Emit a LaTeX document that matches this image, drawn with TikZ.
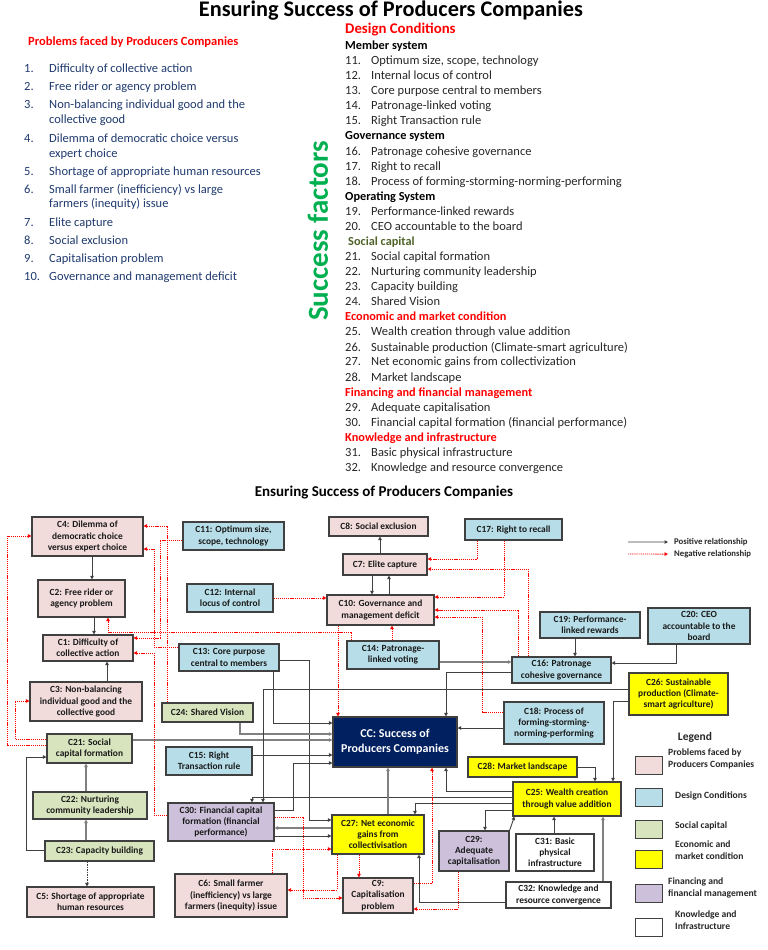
\documentclass[tikz,border=0pt]{standalone}
\usepackage{fontspec}
\setmainfont{Carlito}
\usetikzlibrary{arrows.meta}
\definecolor{pinkf}{HTML}{F2DCDB}
\definecolor{bluef}{HTML}{B7DEE8}
\definecolor{greenf}{HTML}{D7E4BD}
\definecolor{yellowf}{HTML}{FFFF00}
\definecolor{purplef}{HTML}{CCC0DA}
\definecolor{navyf}{HTML}{002060}
\definecolor{listblue}{HTML}{1F3A6E}
\definecolor{sfgreen}{HTML}{00B050}
\definecolor{olivet}{HTML}{4F6228}
\definecolor{redt}{HTML}{FF0000}
\definecolor{lineg}{HTML}{404040}
\newcommand\pitem[4]{%
  \node[plist] (#1n) at (24,#2) {#3};
  \node[plist] (#1t) at (49,#2) {#4};}
\newcommand\ritem[4]{%
  \node[rlist] (#1n) at (345,#2) {#3};
  \node[rlist] (#1t) at (371,#2) {#4};}
\begin{document}
\begin{tikzpicture}[x=1pt,y=-1pt,
  plist/.style={anchor=mid west, inner sep=0pt, text=listblue, font=\fontsize{12.5}{14}\selectfont},
  rlist/.style={anchor=mid west, inner sep=0pt, text=black!85, font=\fontsize{12.5}{14}\selectfont},
  rhead/.style={anchor=mid west, inner sep=0pt, font=\fontsize{12.3}{14}\selectfont\bfseries},
  box/.style={draw=lineg, line width=1.1pt, align=center, inner sep=1pt, text=black!90,
    font=\fontsize{9.4}{11.2}\selectfont\bfseries},
  posline/.style={draw=lineg, line width=0.9pt, -{Triangle[length=3.5pt,width=3.5pt]}},
  gposline/.style={draw=black!50, line width=1.3pt, -{Triangle[length=3.5pt,width=3.5pt]}},
  negline/.style={draw=redt, line width=0.9pt, dash pattern=on 1.2pt off 0.9pt, -{Triangle[length=3.5pt,width=3.5pt]}},
  leg/.style={anchor=mid west, inner sep=0pt, align=left, font=\fontsize{9.6}{12}\selectfont\bfseries, text=black!85},
  swatch/.style={draw=lineg, line width=1pt, minimum width=27pt, minimum height=18pt, inner sep=0pt}
]
\useasboundingbox (0,0) rectangle (768,950);

% ---------- top part ----------
\node[inner sep=0pt, font=\fontsize{22.3}{26}\selectfont\bfseries] (title) at (391,10.5) {Ensuring Success of Producers Companies};

\node[anchor=mid west, inner sep=0pt, text=redt, font=\fontsize{12.5}{14}\selectfont\bfseries] (phead) at (28,43) {Problems faced by Producers Companies};
\pitem{p1}{70}{1.}{Difficulty of collective action}
\pitem{p2}{88}{2.}{Free rider or agency problem}
\pitem{p3}{106}{3.}{Non-balancing individual good and the}
\node[plist] (p3b) at (49,121) {collective good};
\pitem{p4}{140}{4.}{Dilemma of democratic choice versus}
\node[plist] (p4b) at (49,155) {expert choice};
\pitem{p5}{173}{5.}{Shortage of appropriate human resources}
\pitem{p6}{191}{6.}{Small farmer (inefficiency) vs large}
\node[plist] (p6b) at (49,205) {farmers (inequity) issue};
\pitem{p7}{224}{7.}{Elite capture}
\pitem{p8}{242}{8.}{Social exclusion}
\pitem{p9}{260}{9.}{Capitalisation problem}
\pitem{p10}{278}{10.}{Governance and management deficit}

\node[rotate=90, inner sep=0pt, text=sfgreen, font=\fontsize{29}{32}\selectfont\bfseries] (sf) at (318,231) {Success factors};

\node[rhead, text=redt, font=\fontsize{14.8}{16}\selectfont\bfseries] (hdc) at (345,31) {Design Conditions};
\node[rhead] (hms) at (345,47) {Member system};
\ritem{r11}{62}{11.}{Optimum size, scope, technology}
\ritem{r12}{77}{12.}{Internal locus of control}
\ritem{r13}{92}{13.}{Core purpose central to members}
\ritem{r14}{107}{14.}{Patronage-linked voting}
\ritem{r15}{122}{15.}{Right Transaction rule}
\node[rhead] (hgs) at (345,137) {Governance system};
\ritem{r16}{153}{16.}{Patronage cohesive governance}
\ritem{r17}{168}{17.}{Right to recall}
\ritem{r18}{183}{18.}{Process of forming-storming-norming-performing}
\node[rhead] (hos) at (345,198) {Operating System};
\ritem{r19}{213}{19.}{Performance-linked rewards}
\ritem{r20}{228}{20.}{CEO accountable to the board}
\node[rhead, text=olivet] (hsc) at (348,243) {Social capital};
\ritem{r21}{258}{21.}{Social capital formation}
\ritem{r22}{273}{22.}{Nurturing community leadership}
\ritem{r23}{288}{23.}{Capacity building}
\ritem{r24}{303}{24.}{Shared Vision}
\node[rhead, text=redt] (hem) at (345,318) {Economic and market condition};
\ritem{r25}{333}{25.}{Wealth creation through value addition}
\ritem{r26}{349}{26.}{Sustainable production (Climate-smart agriculture)}
\ritem{r27}{363}{27.}{Net economic gains from collectivization}
\ritem{r28}{379}{28.}{Market landscape}
\node[rhead, text=redt] (hff) at (345,394) {Financing and financial management};
\ritem{r29}{409}{29.}{Adequate capitalisation}
\ritem{r30}{424}{30.}{Financial capital formation (financial performance)}
\node[rhead, text=redt] (hki) at (345,439) {Knowledge and infrastructure};
\ritem{r31}{454}{31.}{Basic physical infrastructure}
\ritem{r32}{469}{32.}{Knowledge and resource convergence}

% ---------- diagram ----------
\node[font=\fontsize{15}{17}\selectfont\bfseries] (dtitle) at (384,493) {Ensuring Success of Producers Companies};

\node[box, fill=pinkf, minimum width=111pt, minimum height=39pt] (c4) at (87.5,536.5) {C4: Dilemma of\\democratic choice\\versus expert choice};
\node[box, fill=bluef, minimum width=101pt, minimum height=28pt] (c11) at (233.5,536) {C11: Optimum size,\\scope, technology};
\node[box, fill=pinkf, minimum width=87pt, minimum height=37pt] (c2) at (81.5,598.5) {C2: Free rider or\\agency problem};
\node[box, fill=bluef, minimum width=86pt, minimum height=28pt] (c12) at (230,598) {C12: Internal\\locus of control};
\node[box, fill=pinkf, minimum width=99pt, minimum height=19pt] (c8) at (378.5,526.5) {C8: Social exclusion};
\node[box, fill=bluef, minimum width=97pt, minimum height=21pt] (c17) at (513.5,529.5) {C17: Right to recall};
\node[box, fill=pinkf, minimum width=84pt, minimum height=21pt] (c7) at (385,564.5) {C7: Elite capture};
\node[box, fill=pinkf, minimum width=107pt, minimum height=30pt] (c10) at (380.5,610) {C10: Governance and\\management deficit};
\node[box, fill=bluef, minimum width=100pt, minimum height=26pt] (c19) at (590,625) {C19: Performance-\\linked rewards};
\node[box, fill=bluef, minimum width=102pt, minimum height=36pt] (c20) at (699,626) {C20: CEO\\accountable to the\\board};
\node[box, fill=pinkf, minimum width=90pt, minimum height=26pt] (c1) at (88,648) {C1: Difficulty of\\collective action};
\node[box, fill=bluef, minimum width=100pt, minimum height=27pt] (c13) at (229,657.5) {C13: Core purpose\\central to members};
\node[box, fill=bluef, minimum width=92pt, minimum height=28pt] (c14) at (393,655) {C14: Patronage-\\linked voting};
\node[box, fill=bluef, minimum width=99pt, minimum height=26pt] (c16) at (561.5,670) {C16: Patronage\\cohesive governance};
\node[box, fill=pinkf, minimum width=112pt, minimum height=39pt] (c3) at (86,701.5) {C3: Non-balancing\\individual good and the\\collective good};
\node[box, fill=greenf, minimum width=91pt, minimum height=19pt] (c24) at (207.5,712.5) {C24: Shared Vision};
\node[box, fill=yellowf, minimum width=99pt, minimum height=42pt] (c26) at (678.5,694) {C26: Sustainable\\production (Climate-\\smart agriculture)};
\node[box, fill=navyf, text=white, minimum width=124pt, minimum height=50pt, font=\fontsize{12}{15}\selectfont\bfseries] (cc) at (395,742) {CC: Success of\\Producers Companies};
\node[box, fill=bluef, minimum width=100pt, minimum height=42pt] (c18) at (554,723) {C18: Process of\\forming-storming-\\norming-performing};
\node[box, fill=greenf, minimum width=85pt, minimum height=29pt] (c21) at (89.5,748.5) {C21: Social\\capital formation};
\node[box, fill=bluef, minimum width=86pt, minimum height=28pt] (c15) at (209,761) {C15: Right\\Transaction rule};
\node[box, fill=yellowf, minimum width=109pt, minimum height=20pt] (c28) at (522.5,767) {C28: Market landscape};
\node[box, fill=yellowf, minimum width=108pt, minimum height=34pt] (c25) at (567,799) {C25: Wealth creation\\through value addition};
\node[box, fill=greenf, minimum width=114pt, minimum height=27pt] (c22) at (90,805.5) {C22: Nurturing\\community leadership};
\node[box, fill=purplef, minimum width=106pt, minimum height=38pt] (c30) at (221,822) {C30: Financial capital\\formation (financial\\performance)};
\node[box, fill=yellowf, minimum width=92pt, minimum height=39pt] (c27) at (378,834.5) {C27: Net economic\\gains from\\collectivisation};
\node[box, fill=purplef, minimum width=70pt, minimum height=40pt] (c29) at (474,851) {C29:\\Adequate\\capitalisation};
\node[box, fill=white, minimum width=78pt, minimum height=37pt] (c31) at (555,852.5) {C31: Basic\\physical\\infrastructure};
\node[box, fill=greenf, minimum width=109pt, minimum height=20pt] (c23) at (99.5,851) {C23: Capacity building};
\node[box, fill=pinkf, minimum width=112pt, minimum height=43pt] (c6) at (231,895.5) {C6: Small farmer\\(inefficiency) vs large\\farmers (inequity) issue};
\node[box, fill=pinkf, minimum width=70pt, minimum height=35pt] (c9) at (378,895.5) {C9:\\Capitalisation\\problem};
\node[box, fill=white, minimum width=105pt, minimum height=26pt] (c32) at (558.5,895) {C32: Knowledge and\\resource convergence};
\node[box, fill=pinkf, minimum width=127pt, minimum height=30pt] (c5) at (90.5,902) {C5: Shortage of appropriate\\human resources};

% legend
\coordinate (lp0) at (628,542);
\coordinate (ln0) at (628,554);
\node[leg, font=\fontsize{8.7}{10}\selectfont\bfseries] (lpt) at (674,542) {Positive relationship};
\node[leg, font=\fontsize{8.7}{10}\selectfont\bfseries] (lnt) at (674,554) {Negative relationship};
\draw[posline] (lp0) -- ([xshift=-6pt]lpt.west);
\draw[negline] (ln0) -- ([xshift=-6pt]lnt.west);
\node[font=\fontsize{11.5}{13}\selectfont\bfseries, text=black!85] (legt) at (695,737) {Legend};
\node[swatch, fill=pinkf] (s1) at (648.5,765) {};
\node[swatch, fill=bluef] (s2) at (648.5,797) {};
\node[swatch, fill=greenf] (s3) at (648.5,829.5) {};
\node[swatch, fill=yellowf] (s4) at (648.5,859.5) {};
\node[swatch, fill=purplef] (s5) at (648.5,893) {};
\node[swatch, fill=white] (s6) at (648.5,927) {};
\node[leg] (l1) at (668,765) {Problems faced by\\Producers Companies};
\node[leg] (l2) at (675,796) {Design Conditions};
\node[leg] (l3) at (675,826) {Social capital};
\node[leg] (l4) at (675,857) {Economic and\\market condition};
\node[leg] (l5) at (668,894) {Financing and\\financial management};
\node[leg] (l6) at (675,927) {Knowledge and\\Infrastructure};

% ---------- positive connectors ----------
\draw[posline] (c4.south -| 92,0) -- (c2.north -| 92,0);
\draw[posline] (c2.south -| 94,0) -- (c1.north -| 94,0);
\draw[posline] (c3.north -| 107,0) -- (c1.south -| 107,0);
\draw[posline] (c7.north -| 380,0) -- (c8.south -| 380,0);
\draw[posline] (c7.south -| 372,0) -- (c10.north -| 372,0);
\draw[posline] (c10.north -| 389,0) -- (c7.south -| 389,0);
\draw[posline] (c19.south -| 575,0) -- (c16.north -| 575,0);
\draw[posline] (c20.south -| 676,0) |- (c16.east |- 0,663);
\draw[gposline] (c14.east |- 0,662) -- (c16.west |- 0,662);
\draw[posline] (c16.west |- 0,672) -| (cc.north -| 446,0);
\draw[posline] (c18.west |- 0,728) -- (cc.east |- 0,728);
\draw[posline] (c13.south -| 273,0) |- (cc.west |- 0,723);
\draw[posline] (c13.east |- 0,660) -| (309,820) -- (c27.west |- 0,820);
\draw[gposline] (c24.south -| 240,0) |- (cc.west |- 0,734);
\draw[gposline] (c21.east |- 0,740) -- (cc.west |- 0,740);
\draw[posline] (c15.east |- 0,755) -- (cc.west |- 0,755);
\draw[posline] (c30.east |- 0,810) -| (293,763) -- (cc.west |- 0,763);
\draw[gposline] (c27.west |- 0,828) -- (c30.east |- 0,828);
\draw[posline] (c30.east |- 0,836) -- (c27.west |- 0,836);
\draw[posline] (c26.west |- 0,689) -| (c30.north -| 263,0);
\draw[posline] (c25.west |- 0,797) -| (c30.north -| 252,0);
\draw[posline] (c25.west |- 0,803) -| (c27.north -| 415,0);
\draw[posline] (c25.west |- 0,791) -| (cc.south -| 446,0);
\draw[gposline] (c27.north -| 388,0) -- (cc.south -| 388,0);
\draw[posline] (c28.east) -| (c25.north -| 595,0);
\draw[posline] (c26.west |- 0,701) -| (c25.north -| 613,0);
\draw[posline] (c25.west |- 0,810) -| (c29.north -| 485,0);
\draw[posline] (c29.north east) -- ([xshift=2pt]c25.south west);
\draw[posline] (c31.north -| 554,0) -- (c25.south -| 554,0);
\draw[gposline] (c32.north -| 603,0) -- (c25.south -| 603,0);
\draw[posline] (c32.west |- 0,902) -| (c27.south -| 419,0);
\draw[gposline] (c22.north -| 86,0) -- (c21.south -| 86,0);
\draw[gposline] (c23.north -| 86,0) -- (c22.south -| 86,0);
\draw[posline] (c23.west |- 0,850) -| (26,757) -- (c21.west |- 0,757);
\draw[posline, dash pattern=on 1.5pt off 1pt] (c23.south -| 87,0) -- (c5.north -| 87,0);

% ---------- negative connectors ----------
\draw[negline] (c21.west |- 0,745) -| (7,536) -- (c4.west |- 0,536);
\draw[negline] (c21.west |- 0,739) -| (15,701) -- (c3.west |- 0,701);
\draw[negline] (c11.west |- 0,540) -| (160,638) -- (c1.east |- 0,638);
\draw[negline] (c24.north -| 167,0) |- (c4.east |- 0,526);
\draw[negline] (c13.west |- 0,647) -| (154,549) -- (c4.east |- 0,549);
\draw[negline] (c30.west |- 0,815) -| (154,653) -- (c1.east |- 0,653);
\draw[negline] (c12.east |- 0,598) -- (c10.west |- 0,598);
\draw[negline] (c14.north -| 351,0) |- (108,632) -- (c2.south -| 108,0);
\draw[negline] (c14.north -| 392,0) -- (c10.south -| 392,0);
\draw[negline] (c10.south -| 338,0) -- (cc.north -| 338,0);
\draw[negline] (c17.south -| 477,0) |- (c7.east |- 0,559);
\draw[negline] (c17.south -| 504,0) |- (c10.east |- 0,597);
\draw[negline] (c16.north -| 528,0) |- (c7.east |- 0,569);
\draw[negline] (c16.north -| 518,0) |- (c10.east |- 0,610);
\draw[negline] (c18.west |- 0,712) -| (482,617) -- (c10.east |- 0,617);
\draw[negline] (c29.south -| 458,0) |- (c9.east |- 0,909);
\draw[negline] (c27.south -| 359,0) -- (c9.north -| 359,0);
\draw[negline] (c27.south -| 337,0) |- (c6.east |- 0,890);
\draw[negline] (c6.north -| 272,0) |- (c27.west |- 0,849);
\draw[negline] (c30.east |- 0,817) -| (303,898) -- (c9.west |- 0,898);
\draw[negline] (c9.east |- 0,883) -| (cc.south -| 432,0);
\end{tikzpicture}
\end{document}
